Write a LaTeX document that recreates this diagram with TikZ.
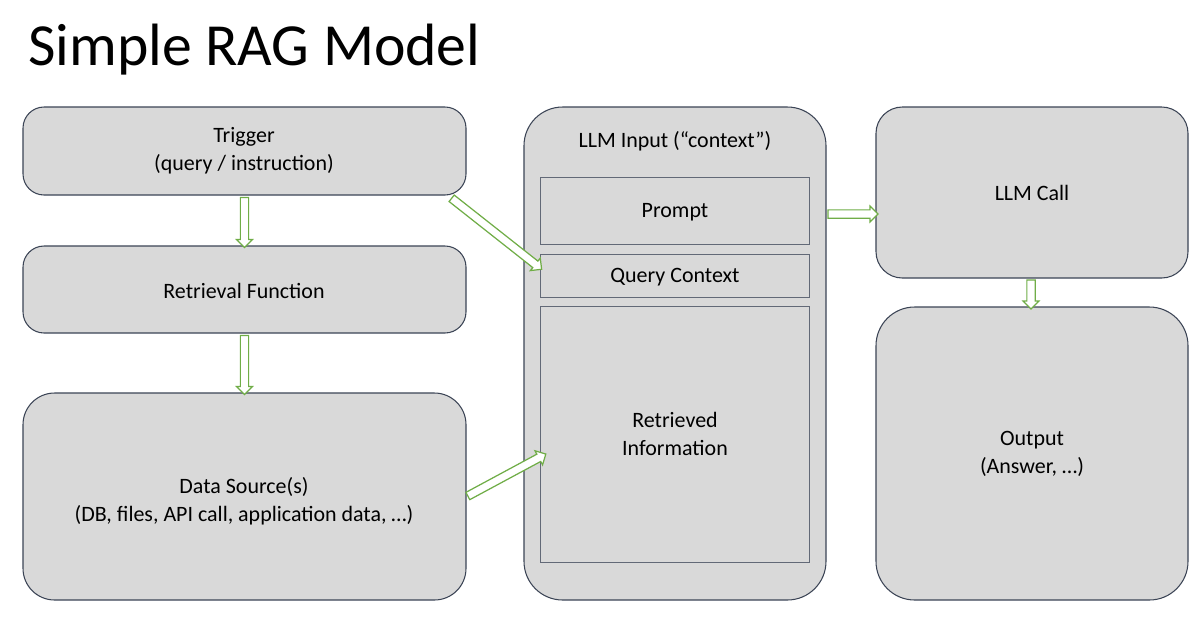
\documentclass[tikz,border=0pt]{standalone}
\usepackage{fontspec}
\setmainfont{Carlito}
\usetikzlibrary{calc,shapes.arrows}
\definecolor{boxfill}{HTML}{D9D9D9}
\definecolor{boxline}{HTML}{3B4455}
\definecolor{arrgreen}{HTML}{70AD47}
\begin{document}
\begin{tikzpicture}[x=0.02cm,y=-0.02cm,
  box/.style={draw=boxline,line width=0.6pt,fill=boxfill,align=center,inner sep=0pt},
  txt/.style={align=center,font=\fontsize{12.5}{16}\selectfont,inner sep=0pt},
  barrow/.style={single arrow,draw=arrgreen,fill=white,line width=0.7pt,inner xsep=0pt,inner ysep=2pt,single arrow head extend=2.2pt,single arrow head indent=0pt,shape border uses incircle=false}]
\useasboundingbox (0,0) rectangle (1200,630);
\node[anchor=west,font=\fontsize{34}{38}\selectfont] (title) at (22,50) {Simple RAG Model};
\newcommand\rbox[6]{\node[box,rounded corners=#6,minimum width={(#4-#2)*0.02cm},minimum height={(#5-#3)*0.02cm}] (#1) at ({(#2+#4)/2},{(#3+#5)/2}) {};}
\rbox{trig}{23}{107}{466}{195}{12pt}
\rbox{retr}{23}{246}{466}{333}{12pt}
\rbox{data}{23}{393}{466}{600}{18pt}
\rbox{llmin}{524}{107}{826}{600}{22pt}
\rbox{call}{876}{107}{1188}{278}{15pt}
\rbox{out}{876}{307}{1188}{600}{22pt}
\tikzset{box/.append style={draw=boxline!80,line width=0.4pt}}
\rbox{prompt}{540}{177}{809}{244}{0pt}
\rbox{qctx}{540}{254}{809}{297}{0pt}
\rbox{rinfo}{540}{306}{809}{562}{0pt}
\node[txt] (t1) at (244,151) {Trigger\\(query / instruction)};
\node[txt] (t2) at (244,291) {Retrieval Function};
\node[txt] (t3) at (244,501) {Data Source(s)\\(DB, files, API call, application data, \dots)};
\node[txt] (t4) at (675,141) {LLM Input (“context”)};
\node[txt] (t5) at (675,212) {Prompt};
\node[txt] (t6) at (675,277) {Query Context};
\node[txt] (t7) at (675,434) {Retrieved\\Information};
\node[txt] (t8) at (1032,193) {LLM Call};
\node[txt] (t9) at (1032,454) {Output\\(Answer, \dots)};
\newcommand\blockarr[2]{\path let \p1=(#1), \p2=(#2), \n1={atan2(\y2-\y1,\x2-\x1)}, \n2={veclen(\x2-\x1,\y2-\y1)} in node[barrow,minimum height=\n2,rotate=\n1] at ($(#1)!0.5!(#2)$) {};}
\coordinate (a1) at (trig.south);
\coordinate (a2) at (retr.north);
\blockarr{a1}{a2}
\coordinate (b1) at (retr.south);
\coordinate (b2) at (data.north);
\blockarr{b1}{b2}
\coordinate (c1) at (450,197);
\coordinate (c2) at (540,268);
\blockarr{c1}{c2}
\coordinate (d1) at (466,497);
\coordinate (d2) at (544,455);
\blockarr{d1}{d2}
\coordinate (e1) at (826,214);
\coordinate (e2) at (876,214);
\blockarr{e1}{e2}
\coordinate (f1) at (1031,278);
\coordinate (f2) at (1031,307);
\blockarr{f1}{f2}
\end{tikzpicture}
\end{document}
